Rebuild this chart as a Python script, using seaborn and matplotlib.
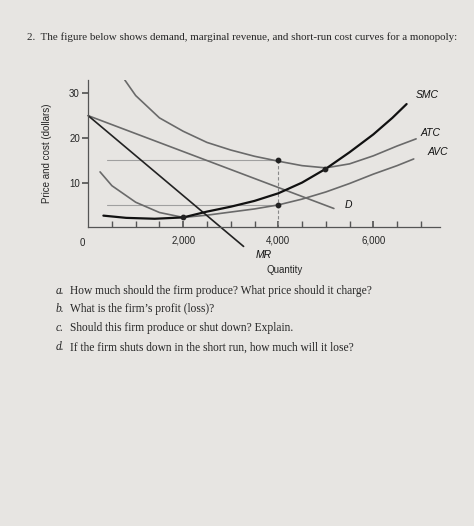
import matplotlib
matplotlib.use("Agg")
import matplotlib.pyplot as plt
import seaborn as sns
import pandas as pd

sns.set_theme(style="white")
plt.rcParams["font.family"] = ["Liberation Sans", "DejaVu Sans"]

# demand and marginal revenue (straight lines, end points)
D_Q = [0, 5170]
D_P = [25, 4.2]
MR_Q = [0, 3270]
MR_P = [25, -4.3]

ATC_Q = [770, 1000, 1500, 2000, 2500, 3000, 3500, 4000, 4500, 5000, 5500, 6000, 6500, 6900]
ATC_P = [33, 29.5, 24.5, 21.5, 19, 17.3, 15.9, 14.8, 13.8, 13.3, 14.2, 16, 18.2, 19.8]
AVC_Q = [250, 500, 1000, 1500, 2000, 2500, 3000, 3500, 4000, 4500, 5000, 5500, 6000, 6500, 6850]
AVC_P = [12.4, 9.3, 5.6, 3.3, 2.2, 2.7, 3.4, 4.1, 5, 6.3, 7.9, 9.8, 11.9, 13.8, 15.3]
SMC_Q = [320, 800, 1400, 2000, 2500, 3000, 3500, 4000, 4500, 5000, 5500, 6000, 6400, 6700]
SMC_P = [2.6, 2.1, 1.9, 2.2, 3.5, 4.6, 5.9, 7.6, 10.0, 13.1, 16.8, 20.8, 24.5, 27.6]

DOT_Q = [4000, 4000, 2000, 4990]
DOT_P = [15, 5, 2.2, 13.1]
HLINES = [15, 5]
X_TICKS = [2000, 4000, 6000]
X_LABELS = ["2,000", "4,000", "6,000"]
Y_TICKS = [10, 20, 30]

BG = "#e7e5e2"
GRAY = "#6a6a6a"

fig = plt.figure(figsize=(4.74, 5.26), dpi=100, facecolor=BG)
ax = fig.add_axes([0.186, 0.568, 0.742, 0.28], facecolor=BG)

for yv in HLINES:
    ax.plot([400, 4000], [yv, yv], color="#a0a0a0", lw=0.8)
ax.plot([4000, 4000], [15, 0], color="#888888", lw=0.8, ls=(0, (3, 2)))

sns.lineplot(x=ATC_Q, y=ATC_P, ax=ax, color=GRAY, lw=1.2, sort=False)
sns.lineplot(x=AVC_Q, y=AVC_P, ax=ax, color=GRAY, lw=1.2, sort=False)
sns.lineplot(x=D_Q, y=D_P, ax=ax, color=GRAY, lw=1.2)
ax.plot(MR_Q, MR_P, color="#222222", lw=1.2, clip_on=False)
sns.lineplot(x=SMC_Q, y=SMC_P, ax=ax, color="#111111", lw=1.6, sort=False)
ax.scatter(DOT_Q, DOT_P, s=10, color="#222222", zorder=5)

ax.set_xlim(0, 7400)
ax.set_ylim(0, 33)
for s in ["top", "right"]:
    ax.spines[s].set_visible(False)
for s in ["left", "bottom"]:
    ax.spines[s].set_color("#555555")
    ax.spines[s].set_linewidth(0.9)

ax.set_xticks(range(500, 7001, 500), minor=True)
ax.set_xticks(X_TICKS)
ax.set_xticklabels(X_LABELS, fontsize=7)
ax.set_yticks(Y_TICKS)
ax.set_yticklabels([str(v) for v in Y_TICKS], fontsize=7)
ax.tick_params(axis="x", which="both", direction="in", length=4, color="#555555", bottom=True, pad=6)
ax.tick_params(axis="y", direction="out", length=4, color="#555555", left=True, pad=2)
ax.text(-60, -2.4, "0", fontsize=7, ha="right", va="top")
ax.set_xlabel("Quantity", fontsize=7, labelpad=14, x=0.56)
ax.set_ylabel("Price and cost (dollars)", fontsize=7, labelpad=12)

lab = dict(fontsize=7.5, style="italic", color="#111111")
ax.text(6900, 29, "SMC", **lab)
ax.text(7000, 20.5, "ATC", **lab)
ax.text(7130, 16.2, "AVC", **lab)
ax.text(5390, 4.2, "D", **lab)
ax.text(3530, -6.8, "MR", clip_on=False, **lab)

serif = ["Liberation Serif", "DejaVu Serif"]
fig.text(0.057, 0.924,
         "2.  The figure below shows demand, marginal revenue, and short-run cost curves for a monopoly:",
         fontsize=7.9, family=serif, ha="left")
qs = [("a.", "How much should the firm produce? What price should it charge?"),
      ("b.", "What is the firm\u2019s profit (loss)?"),
      ("c.", "Should this firm produce or shut down? Explain."),
      ("d.", "If the firm shuts down in the short run, how much will it lose?")]
for i, (k, q) in enumerate(qs):
    y = 0.442 - i * 0.036
    fig.text(0.118, y, k, fontsize=8.3, family=serif, style="italic")
    fig.text(0.148, y, q, fontsize=8.3, family=serif)

fig.savefig("out.png", dpi=100, facecolor=BG)
